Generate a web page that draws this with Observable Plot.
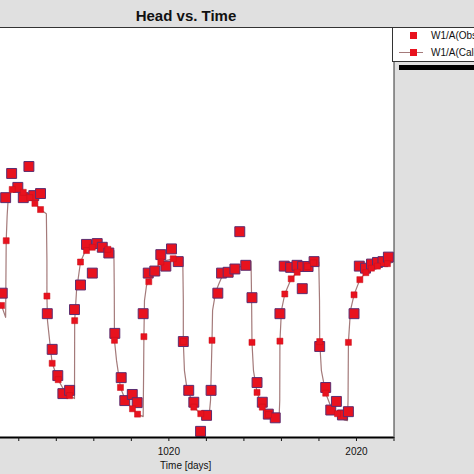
<!DOCTYPE html>
<html><head><meta charset="utf-8">
<script src="https://cdn.jsdelivr.net/npm/d3@7"></script>
<script src="https://cdn.jsdelivr.net/npm/@observablehq/plot@0.6"></script>
<style>
html,body{margin:0;padding:0;width:474px;height:474px;overflow:hidden;background:#e0e0e0;font-family:Arial,"Liberation Sans",sans-serif;}
#wrap{position:relative;width:474px;height:474px;overflow:hidden;}
#chart{position:absolute;left:-24px;top:0;}
#title{position:absolute;left:0;width:372px;top:7px;text-align:center;font-weight:bold;font-size:15px;line-height:17px;color:#111;}
#legend{position:absolute;left:392px;top:27px;width:100px;height:33px;background:#fff;border:1px solid #333;overflow:hidden;}
.lt{position:absolute;left:38px;font-size:10px;line-height:12px;color:#111;white-space:nowrap;}
.sq{position:absolute;width:7px;height:7px;background:#e8121e;}
.ln{position:absolute;left:6px;width:24px;height:1px;background:#a47a7a;}
#bar{position:absolute;left:399px;top:65px;width:90px;height:5px;background:#000;}
</style></head>
<body>
<div id="wrap">
  <div id="chart"></div>
  <div id="title">Head vs. Time</div>
  <div id="legend">
    <div class="sq" style="left:16.5px;top:3.5px"></div>
    <div class="lt" style="top:2px">W1/A(Observed)</div>
    <div class="ln" style="top:24px"></div>
    <div class="sq" style="left:16.5px;top:20.5px"></div>
    <div class="lt" style="top:19px">W1/A(Calculated)</div>
  </div>
  <div id="bar"></div>
</div>
<script>
// Observed heads (large squares)
const obsDay = [132,150,182,215,244,274,300,336, 372,398,428,455,491, 517,549,581,612,638,665,700, 732,766,785,825,851, 883,910,945,977,1004,1034,1070, 1097,1126,1153,1189,1221, 1245,1281,1301,1336,1372,1398,1430, 1463,1490,1518,1550,1587, 1612,1635,1669,1703,1731,1733,1762,1794, 1824,1856,1883,1913,1945,1977, 2007,2035,2068,2100,2132,2161,2190];
const obsHead = [35.2,58.5,64.4,61.0,58.5,66.1,59.0,59.5, 30.2,21.5,15.1,10.7,11.5, 31.2,37.2,47.1,40.1,47.3,46.4,45.0, 25.4,14.6,9.0,10.5,8.5, 30.2,40.1,40.6,44.6,41.8,46.0,42.9, 23.4,11.5,8.6,1.5,5.4, 11.5,35.2,40.1,40.3,41.1,50.2,42.0, 34.1,13.4,8.6,5.7,4.8, 30.2,41.8,41.5,42.0,36.3,41.7,41.7,42.9, 22.2,12.2,6.7,8.8,5.5,6.3, 30.2,41.8,41.3,42.3,42.7,42.9,44.0];

// Calculated head curve
const calcDay = [80,128,150,151,153,158,162,176,185,214,244,279,306,336,367, 370,370,373,389,398,430,459,491,517, 518,528,549,571,581,612,640,667,695,727, 729,730,741,762,789,826,853,883, 885,887,890,901,913,933,977,1008,1043,1094, 1097,1097,1103,1114,1153,1190,1233, 1242,1250,1253,1269,1285,1301,1338,1375,1429,1458, 1461,1463,1471,1490,1518,1551,1607, 1611,1612,1620,1638,1672,1704,1759,1791,1819, 1823,1824,1833,1856,1881,1919,1954,1972, 1975,1977,1988,2007,2038,2070,2100,2132,2159,2185,2212];
const calcHead = [35.4,32.2,29.3,35.9,48.0,54.1,57.1,59.5,60.5,60.2,59.8,58.5,57.1,55.6,54.6, 43.2,34.5,28.5,21.7,18.1,14.1,11.7,10.2,9.5, 28.5,35.9,42.8,45.1,45.6,46.4,46.6,46.3,45.9,45.6, 35.9,23.7,18.8,12.2,9.0,7.0,5.7,5.1, 13.9,24.6,33.4,37.1,38.0,40.2,42.8,43.2,43.6,43.9, 33.4,23.4,16.3,12.7,7.4,5.8,4.6, 9.0,23.7,31.0,35.4,37.3,39.0,40.5,41.2,42.2,42.9, 33.4,23.2,16.3,11.0,7.4,5.6,4.1, 9.0,23.5,31.0,35.0,38.7,40.3,41.7,42.6,42.8, 33.4,23.4,16.3,10.8,7.8,5.8,4.3,4.1, 9.0,23.2,31.0,34.8,38.5,40.2,41.3,41.8,42.2,42.4,42.7];

// Calculated marker points (small squares)
const markDay = [128,153,185,244,279,306,336, 370,398,430,491, 518,549,581,612,695, 730,762,826,853, 887,913,977,1043, 1097,1153,1190, 1250,1463,1490,1518,1551, 1612,1638,1672,1704,1759,1791, 1824,1856,1919, 1977,2007,2038,2070,2100,2132,2185];
const markHead = [32.2,48.0,60.5,59.8,58.5,57.1,55.6, 34.5,18.1,14.1,10.2, 28.5,42.8,45.6,46.4,45.9, 23.7,12.2,7.0,5.7, 24.6,38.0,42.8,43.6, 23.4,7.4,5.8, 23.7,23.2,11.0,7.4,5.6, 23.5,35.0,38.7,40.3,41.7,42.6, 23.4,10.8,5.8, 23.2,34.8,38.5,40.2,41.3,41.8,42.4];

const xTicks = [20,220,420,620,820,1020,1220,1420,1620,1820,2020,2220];
const xTickLabels = [1020,2020];
const xDomain = [0,2220];
const yDomain = [0,100];

const obs = obsDay.map((d,i)=>({day:d, head:obsHead[i]}));
const calc = calcDay.map((d,i)=>({day:d, head:calcHead[i]}));
const marks = markDay.map((d,i)=>({day:d, head:markHead[i]}));

const chart = Plot.plot({
  width: 498, height: 474,
  marginLeft: 1, marginRight: 80.5, marginTop: 27, marginBottom: 37,
  style: {background: "transparent", fontFamily: "Arial, 'Liberation Sans', sans-serif", fontSize: "10px", color: "#111", overflow: "visible"},
  x: {domain: xDomain},
  y: {domain: yDomain, axis: null},
  marks: [
    Plot.frame({fill: "white", stroke: "#333"}),
    Plot.line(calc, {x: "day", y: "head", stroke: "#a47a7a", strokeWidth: 1.2}),
    Plot.dot(obs, {x: "day", y: "head", symbol: "square", r: 5.6, fill: "#e8121e", stroke: "#5b2d70", strokeWidth: 1}),
    Plot.dot(marks, {x: "day", y: "head", symbol: "square", r: 3.4, fill: "#e8121e", stroke: "#c8101a", strokeWidth: 0.5}),
    Plot.ruleY([yDomain[0]], {stroke: "#000", strokeWidth: 2}),
    Plot.axisX({ticks: xTicks, tickSize: 4, tickPadding: 6, tickFormat: d => xTickLabels.includes(d) ? String(d) : "",
      label: "Time [days]", labelAnchor: "center", labelOffset: 31, labelArrow: "none"})
  ]
});
document.getElementById("chart").appendChild(chart);
</script>
</body></html>
